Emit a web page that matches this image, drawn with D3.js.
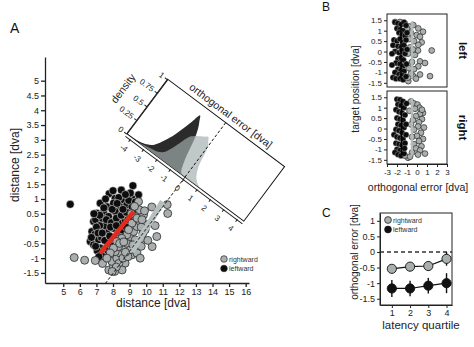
<!DOCTYPE html>
<html>
<head>
<meta charset="utf-8">
<script src="https://cdn.jsdelivr.net/npm/d3@7"></script>
<style>
body { margin: 0; background: #fff; }
svg { font-family: "Liberation Sans", Arial, Helvetica, sans-serif; }
.ax path, .ax line { stroke: #222; }
.ax text { fill: #222; }
</style>
</head>
<body>
<div id="chart"></div>
<script>
var width = 474;
var height = 347;

// ---------- data ----------
// panel A: endpoint positions [dva]
var leftwardA = [[5.42,0.82],[7.77,1.18],[9.2,1.45],[9.54,1.14],[8.13,1.02],[8.63,0.91],[9.14,1.02],[7.23,0.86],
  [7.63,0.74],[8.03,0.86],[8.43,0.74],[8.84,0.8],[9.14,0.74],[7.03,0.52],[7.43,0.55],[6.83,0.24],[6.95,0.3],
  [6.73,-0.1],[6.63,-0.44],[6.83,-0.55],[6.9,-0.2],[7.13,-0.38],[7.23,-0.66],[7.43,0.18],[7.73,0.41],[8.13,0.58],
  [7.63,-0.1],[8.03,0.01],[8.43,0.18],[8.73,0.29],[9.03,0.46],[8.33,-0.16],[8.63,-0.1],[8.13,-0.38],[7.83,-0.55],
  [7.53,-0.72],[7.05,-0.75],[7.3,-0.3],[7.5,0.1],[7.2,0.1],[7.0,0.05],[7.35,0.35],[7.6,0.3],[7.9,0.2],[8.2,0.35],
  [8.5,0.45],[8.8,0.55],[9.3,0.6],[8.35,1.05],[7.95,0.65],[8.25,0.85],[8.6,0.65],[8.95,0.95],[9.35,0.9],[7.5,-0.4],
  [7.8,-0.25],[8.0,-0.6],[7.7,-0.85],[7.4,-0.95],[7.15,-0.95],[6.95,-0.6],[6.7,-0.3],[7.1,-0.15],[7.35,-0.15],
  [7.85,0.05],[8.2,0.1],[8.5,-0.3],[8.8,0.05],[8.9,0.3],[9.2,0.3],[7.45,0.7],[7.2,0.45],[6.85,0.5],[7.55,1.0],
  [8.5,1.3],[8.0,1.28],[9.05,1.2],[8.75,1.15]];
var rightwardA = [[5.66,-0.98],[6.29,-1.07],[6.93,-1.08],[7.37,-1.18],[7.75,-1.4],[8.03,-1.28],[7.93,-1.11],
  [8.23,-1.0],[8.53,-1.23],[8.73,-1.17],[8.43,-0.83],[8.13,-0.78],[8.63,-0.66],[8.84,-0.5],[8.33,-0.61],[9.14,-0.89],
  [9.44,-0.83],[9.64,-1.0],[9.04,-0.27],[9.24,-0.1],[9.44,0.07],[9.64,0.24],[9.84,0.46],[9.54,0.91],[9.6,0.63],
  [9.9,0.6],[9.34,-0.38],[9.74,-0.33],[9.94,-0.04],[10.04,0.13],[9.8,-0.16],[10.34,0.73],[11.27,0.81],[11.3,0.51],
  [10.54,0.1],[10.64,-0.27],[10.36,-0.61],[9.04,-0.72],[8.84,-0.21],[9.14,0.18],[9.34,0.41],[8.94,-0.04],[8.53,-0.33],
  [8.23,-0.44],[8.03,-0.66],[7.83,-0.83],[7.63,-1.0],[8.35,-1.18],[8.1,-1.45],[8.6,-1.0],[8.9,-0.95],[9.2,-0.55],
  [9.5,-0.55],[9.7,-0.6],[9.1,0.5],[9.45,0.35],[9.3,0.75],[9.7,0.05],[10.1,-0.4],[8.75,-0.8],[8.55,-1.4],[8.2,-1.3],
  [7.95,-1.45],[9.75,0.3],[8.4,-0.5],[8.65,-0.45]];
var leftwardFit = [[7.23,-0.83],[9.24,0.57]];
var rightwardFit = [[9.13,-0.78],[11.0,0.91]];
var distXTicks = [5,6,7,8,9,10,11,12,13,14,15,16];
var distYTicks = [-1.5,-1,-0.5,0,0.5,1,1.5,2,2.5,3,3.5,4,4.5,5];

// inset: density of orthogonal error
var errTicks = [-4,-3,-2,-1,0,1,2,3,4];
var densTicks = [0,0.25,0.5,0.75,1];
var leftDensErr = [-4.2,-3.8,-3.4,-3.0,-2.6,-2.3,-2.0,-1.8,-1.65,-1.5,-1.3,-1.1,-0.9,-0.7,-0.55,-0.4,-0.2];
var leftDens    = [0,0.005,0.02,0.05,0.12,0.25,0.42,0.58,0.72,0.86,0.78,0.68,0.52,0.28,0.14,0.04,0];
var rightDensErr = [-3.4,-3.0,-2.6,-2.2,-1.8,-1.55,-1.3,-1.0,-0.7,-0.45,-0.33,-0.15,0.07,0.23,0.43,0.7,1.07,1.3];
var rightDens    = [0,0.02,0.04,0.06,0.15,0.3,0.48,0.57,0.62,0.66,0.68,0.62,0.51,0.29,0.15,0.06,0.01,0];

// panel B: [orthogonal error, target position]
var leftBlackB = [[-2.2,1.4],[-1.9,1.35],[-1.6,1.3],[-1.3,1.4],[-1.1,1.25],[-2.0,1.1],[-1.7,1.05],[-1.4,1.0],
  [-1.8,0.9],[-1.5,0.8],[-1.2,0.75],[-2.3,0.55],[-2.0,0.5],[-1.7,0.6],[-1.4,0.45],[-1.1,0.55],[-2.4,0.3],[-1.9,0.25],
  [-1.6,0.2],[-1.3,0.3],[-2.2,0.0],[-1.8,-0.05],[-1.5,0.05],[-1.2,-0.1],[-2.5,-0.1],[-1.9,-0.35],[-1.6,-0.3],
  [-1.35,-0.4],[-2.1,-0.55],[-2.5,-0.65],[-1.7,-0.6],[-1.4,-0.7],[-1.9,-0.85],[-1.6,-0.9],[-1.3,-0.95],[-2.2,-1.0],
  [-1.8,-1.1],[-1.5,-1.15],[-2.4,-1.25],[-2.1,-1.3],[-1.7,-1.3],[-1.4,-1.35],[-1.1,-1.2],[-1.0,0.1],[-1.0,0.9],
  [-1.05,-0.6]];
var leftGrayB = [[-2.2,1.42],[-1.7,1.42],[-1.2,1.34],[-0.37,1.27],[0.13,1.11],[-0.8,1.2],[-0.03,0.79],[0.3,0.71],
  [-0.6,0.9],[0.47,0.44],[0.13,0.32],[-0.3,0.5],[1.47,0.05],[-0.2,-0.16],[0.1,0.05],[-0.7,0.2],[0.3,-0.47],
  [0.8,-0.55],[-0.5,-0.5],[0.13,-0.71],[-0.3,-0.85],[0.3,-1.1],[1.3,-1.18],[-0.37,-1.18],[-0.87,-1.42],[-0.1,-1.3],
  [-0.9,-1.25],[-0.8,0.6],[-0.9,-0.1],[-0.8,-0.8],[0.6,0.95],[-0.4,0.1],[-1.0,1.1],[-0.6,-1.05]];
var rightBlackB = [[-2.0,1.4],[-1.7,1.38],[-1.4,1.3],[-1.9,1.15],[-1.6,1.1],[-1.3,1.0],[-2.1,0.9],[-1.8,0.8],
  [-1.5,0.75],[-1.2,0.65],[-2.0,0.5],[-1.7,0.45],[-1.4,0.4],[-1.9,0.2],[-1.6,0.15],[-1.3,0.05],[-2.1,-0.05],
  [-1.8,-0.1],[-1.5,-0.2],[-2.3,-0.3],[-2.0,-0.4],[-1.7,-0.45],[-1.4,-0.5],[-2.1,-0.7],[-1.8,-0.75],[-1.5,-0.8],
  [-1.2,-0.7],[-2.0,-1.0],[-1.7,-1.05],[-1.4,-1.1],[-2.2,-1.15],[-1.9,-1.25],[-1.6,-1.3],[-1.3,-1.2],[-1.1,0.2],
  [-1.1,-0.3],[-1.05,1.2],[-1.25,-0.95]];
var rightGrayB = [[-0.6,1.3],[-0.3,1.2],[0.05,1.15],[0.25,1.0],[-0.2,0.95],[0.6,0.75],[0.3,0.7],[-0.1,0.6],
  [0.5,0.45],[-0.4,0.4],[0.2,0.3],[-0.6,0.2],[0.1,0.1],[0.7,0.05],[-0.3,-0.05],[0.4,-0.2],[0.0,-0.35],[-0.5,-0.4],
  [0.6,-0.5],[0.2,-0.6],[-0.3,-0.75],[0.45,-0.85],[-0.1,-0.95],[0.3,-1.05],[-0.5,-1.15],[0.8,-1.2],[0.1,-1.25],
  [-0.9,-1.4],[-1.2,-1.3],[-0.7,-1.35],[-0.75,0.85],[0.5,0.9]];
var meanLeftB = {black: -1.6, gray: -0.5};
var meanRightB = {black: -1.55, gray: -0.5};
var errTicksB = [-3,-2,-1,0,1,2,3];
var posTicksB = [-1.5,-1,-0.5,0,0.5,1,1.5];

// panel C
var quartiles = [1,2,3,4];
var rightwardMean = [-0.54,-0.47,-0.45,-0.22];
var rightwardErr  = [0.09,0.15,0.15,0.22];
var leftwardMean  = [-1.17,-1.17,-1.08,-1.0];
var leftwardErr   = [0.27,0.25,0.25,0.32];
var errTicksC = [-1.5,-1,-0.5,0,0.5,1];

var grayFill = "#a9aeae";
var darkStroke = "#2a2a2a";

var svg = d3.select("#chart").append("svg")
  .attr("width", width).attr("height", height);
svg.append("rect").attr("width", width).attr("height", height).attr("fill", "#fff");

function fmt(d) { return String(d); }
function styleAxis(g, fs, sw) {
  g.attr("class", "ax");
  g.selectAll("text").style("font-size", fs + "px");
  g.select(".domain").attr("stroke-width", sw);
  g.selectAll(".tick line").attr("stroke-width", sw);
}

// ---------- panel A ----------
var ax = d3.scaleLinear().domain([3.9, 16.2]).range([45, 249]);
var ay = d3.scaleLinear().domain([-1.84, 5.8]).range([283, 57]);

svg.append("g").attr("transform", "translate(0," + ay(-1.84) + ")")
  .call(d3.axisBottom(ax).tickValues(distXTicks).tickSize(4).tickSizeOuter(0).tickPadding(2).tickFormat(fmt))
  .call(styleAxis, 9, 1.3);
svg.append("g").attr("transform", "translate(" + ax(3.9) + ",0)")
  .call(d3.axisLeft(ay).tickValues(distYTicks).tickSize(4).tickSizeOuter(0).tickPadding(2).tickFormat(fmt))
  .call(styleAxis, 9, 1.3);

svg.append("text").attr("x", 153).attr("y", 307).attr("text-anchor", "middle")
  .style("font-size", "12px").attr("fill", "#222").text("distance [dva]");
svg.append("text").attr("transform", "translate(19,165) rotate(-90)").attr("text-anchor", "middle")
  .style("font-size", "12px").attr("fill", "#222").text("distance [dva]");

svg.append("g").selectAll("circle").data(leftwardA).enter().append("circle")
  .attr("cx", d => ax(d[0])).attr("cy", d => ay(d[1])).attr("r", 4)
  .attr("fill", "#0d0d0d").attr("stroke", "#fff").attr("stroke-width", 0.5);
svg.append("g").selectAll("circle").data(rightwardA).enter().append("circle")
  .attr("cx", d => ax(d[0])).attr("cy", d => ay(d[1])).attr("r", 4)
  .attr("fill", grayFill).attr("stroke", darkStroke).attr("stroke-width", 0.8);

var fitLine = d3.line().x(d => ax(d[0])).y(d => ay(d[1]));
svg.append("path").attr("d", fitLine(rightwardFit)).attr("stroke", "#b7c0bf")
  .attr("stroke-width", 6).attr("fill", "none");
svg.append("path").attr("d", fitLine(leftwardFit)).attr("stroke", "#e52a1e")
  .attr("stroke-width", 4.5).attr("fill", "none");

// inset, rotated so that its error axis is orthogonal to the dashed line
var insetAngle = 36.8;
var insetOrigin = [12.34, 1.74];
var ox = ax(insetOrigin[0]), oy = ay(insetOrigin[1]);
var ex = d3.scaleLinear().domain([-4.35, 4.4]).range([-4.35 * 16.7, 4.4 * 16.7]);
var ey = d3.scaleLinear().domain([0, 1]).range([0, -68]);
var gI = svg.append("g").attr("transform", "translate(" + ox + "," + oy + ") rotate(" + insetAngle + ")");

var belowLen = (ay(-1.84) - oy) / Math.cos(insetAngle * Math.PI / 180);
gI.append("line").attr("x1", ex(0)).attr("x2", ex(0)).attr("y1", 0).attr("y2", belowLen)
  .attr("stroke", "#111").attr("stroke-width", 0.9).attr("stroke-dasharray", "3,2");

gI.append("rect").attr("x", ex(-4.35)).attr("y", ey(1))
  .attr("width", ex(4.4) - ex(-4.35)).attr("height", ey(0) - ey(1))
  .attr("fill", "#fff").attr("stroke", "#111").attr("stroke-width", 1);

var area = d3.area().x(d => ex(d[0])).y0(ey(0)).y1(d => ey(d[1])).curve(d3.curveMonotoneX);
gI.append("path").attr("d", area(d3.zip(leftDensErr, leftDens))).attr("fill", "#2b2b2b");
gI.append("path").attr("d", area(d3.zip(rightDensErr, rightDens))).attr("fill", "#a4b0ae").attr("fill-opacity", 0.68);

gI.append("line").attr("x1", ex(0)).attr("x2", ex(0)).attr("y1", ey(0)).attr("y2", ey(1))
  .attr("stroke", "#111").attr("stroke-width", 0.9).attr("stroke-dasharray", "3,2");

gI.append("g").attr("transform", "translate(0,2.5)")
  .call(d3.axisBottom(ex).tickValues(errTicks).tickSize(3).tickSizeOuter(0).tickPadding(5).tickFormat(fmt))
  .call(styleAxis, 8, 1);
gI.append("g").attr("transform", "translate(" + ex(-4.35) + ",0)")
  .call(d3.axisLeft(ey).tickValues(densTicks).tickSize(3).tickSizeOuter(0).tickPadding(2).tickFormat(fmt))
  .call(styleAxis, 8, 1);
gI.append("text").attr("transform", "translate(-103," + ey(0.5) + ") rotate(-90)")
  .attr("text-anchor", "middle").attr("dominant-baseline", "central")
  .style("font-size", "10.5px").attr("fill", "#222").text("density");
gI.append("text").attr("x", 0).attr("y", ey(1) - 9)
  .attr("text-anchor", "middle").attr("dominant-baseline", "central")
  .style("font-size", "10.5px").attr("fill", "#222").text("orthogonal error [dva]");

// legend A
var legA = svg.append("g").attr("transform", "translate(224,259)");
[["rightward", grayFill], ["leftward", "#0d0d0d"]].forEach(function(e, i) {
  legA.append("circle").attr("cx", 0).attr("cy", i * 9.5).attr("r", 3.3)
    .attr("fill", e[1]).attr("stroke", darkStroke).attr("stroke-width", 0.7);
  legA.append("text").attr("x", 5).attr("y", i * 9.5).attr("dominant-baseline", "central")
    .style("font-size", "7px").attr("fill", "#333").text(e[0]);
});

svg.append("text").attr("x", 10).attr("y", 33).style("font-size", "14px").attr("fill", "#111").text("A");

// ---------- panel B ----------
var bx = d3.scaleLinear().domain([-3, 3]).range([387, 447]);
var panelsB = [
  {label: "left", top: 14, bottom: 87, black: leftBlackB, gray: leftGrayB, mean: meanLeftB},
  {label: "right", top: 91, bottom: 164, black: rightBlackB, gray: rightGrayB, mean: meanRightB}
];
panelsB.forEach(function(p) {
  var by = d3.scaleLinear().domain([-1.7, 1.8]).range([p.bottom, p.top]);
  var g = svg.append("g");
  g.append("rect").attr("x", bx(-3)).attr("y", p.top).attr("width", bx(3) - bx(-3))
    .attr("height", p.bottom - p.top).attr("fill", "#fff").attr("stroke", "#222").attr("stroke-width", 1);
  g.append("g").selectAll("circle").data(p.gray).enter().append("circle")
    .attr("cx", d => bx(d[0])).attr("cy", d => by(d[1])).attr("r", 2.9)
    .attr("fill", grayFill).attr("stroke", darkStroke).attr("stroke-width", 0.7);
  g.append("g").selectAll("circle").data(p.black).enter().append("circle")
    .attr("cx", d => bx(d[0])).attr("cy", d => by(d[1])).attr("r", 3)
    .attr("fill", "#0d0d0d").attr("stroke", "#fff").attr("stroke-width", 0.3);
  g.append("line").attr("x1", bx(p.mean.black)).attr("x2", bx(p.mean.black))
    .attr("y1", by(-1.3)).attr("y2", by(1.4)).attr("stroke", "#000").attr("stroke-width", 1.5);
  g.append("line").attr("x1", bx(p.mean.gray)).attr("x2", bx(p.mean.gray))
    .attr("y1", by(-1.3)).attr("y2", by(1.45)).attr("stroke", "#b3bbba").attr("stroke-width", 2.5);
  g.append("g").attr("transform", "translate(" + bx(-3) + ",0)")
    .call(d3.axisLeft(by).tickValues(posTicksB).tickSize(3).tickSizeOuter(0).tickPadding(2).tickFormat(fmt))
    .call(styleAxis, 8, 1)
    .select(".domain").remove();
  svg.append("text").attr("transform", "translate(463," + ((p.top + p.bottom) / 2) + ") rotate(90)")
    .attr("text-anchor", "middle").attr("dominant-baseline", "central")
    .style("font-size", "11.5px").style("font-weight", "bold").attr("fill", "#111").text(p.label);
});
svg.append("g").attr("transform", "translate(0,164)")
  .call(d3.axisBottom(bx).tickValues(errTicksB).tickSize(3).tickSizeOuter(0).tickPadding(2).tickFormat(fmt))
  .call(styleAxis, 8, 1);
svg.append("text").attr("x", 418).attr("y", 191).attr("text-anchor", "middle")
  .style("font-size", "10.5px").attr("fill", "#222").text("orthogonal error [dva]");
svg.append("text").attr("transform", "translate(355,89) rotate(-90)").attr("text-anchor", "middle")
  .attr("dominant-baseline", "central")
  .style("font-size", "10px").attr("fill", "#222").text("target position [dva]");
svg.append("text").attr("x", 322).attr("y", 11).style("font-size", "12px").attr("fill", "#111").text("B");

// ---------- panel C ----------
var cx = d3.scaleLinear().domain([0.35, 4.3]).range([380, 452]);
var cy = d3.scaleLinear().domain([-1.7, 1.25]).range([305, 213]);
svg.append("rect").attr("x", cx(0.35)).attr("y", cy(1.25)).attr("width", cx(4.3) - cx(0.35))
  .attr("height", cy(-1.7) - cy(1.25)).attr("fill", "#fff").attr("stroke", "#222").attr("stroke-width", 1);
svg.append("line").attr("x1", cx(0.35)).attr("x2", cx(4.3)).attr("y1", cy(0)).attr("y2", cy(0))
  .attr("stroke", "#333").attr("stroke-width", 1.3).attr("stroke-dasharray", "4,3");

svg.append("g").attr("transform", "translate(" + cx(0.35) + ",0)")
  .call(d3.axisLeft(cy).tickValues(errTicksC).tickSize(3).tickSizeOuter(0).tickPadding(2).tickFormat(fmt))
  .call(styleAxis, 9, 1);
svg.append("g").attr("transform", "translate(0," + cy(-1.7) + ")")
  .call(d3.axisBottom(cx).tickValues(quartiles).tickSize(3).tickSizeOuter(0).tickPadding(2).tickFormat(fmt))
  .call(styleAxis, 9, 1);

var seriesC = [
  {mean: rightwardMean, err: rightwardErr, fill: grayFill},
  {mean: leftwardMean, err: leftwardErr, fill: "#111"}
];
var lineC = d3.line().x(d => cx(d.q)).y(d => cy(d.m));
seriesC.forEach(function(s) {
  var pts = quartiles.map(function(q, i) { return {q: q, m: s.mean[i], e: s.err[i]}; });
  var g = svg.append("g");
  g.selectAll("line.eb").data(pts).enter().append("line")
    .attr("x1", d => cx(d.q)).attr("x2", d => cx(d.q))
    .attr("y1", d => cy(d.m - d.e)).attr("y2", d => cy(d.m + d.e))
    .attr("stroke", "#111").attr("stroke-width", 1.4);
  g.append("path").attr("d", lineC(pts)).attr("fill", "none").attr("stroke", "#111").attr("stroke-width", 1.2);
  g.selectAll("circle").data(pts).enter().append("circle")
    .attr("cx", d => cx(d.q)).attr("cy", d => cy(d.m)).attr("r", 4.6)
    .attr("fill", s.fill).attr("stroke", "#111").attr("stroke-width", 0.9);
});

var legC = svg.append("g").attr("transform", "translate(388,220)");
[["rightward", grayFill], ["leftward", "#111"]].forEach(function(e, i) {
  legC.append("circle").attr("cx", 0).attr("cy", i * 9.5).attr("r", 3.4)
    .attr("fill", e[1]).attr("stroke", "#111").attr("stroke-width", 0.7);
  legC.append("text").attr("x", 5).attr("y", i * 9.5).attr("dominant-baseline", "central")
    .style("font-size", "7px").attr("fill", "#333").text(e[0]);
});

svg.append("text").attr("x", 421).attr("y", 329).attr("text-anchor", "middle")
  .style("font-size", "11.5px").attr("fill", "#222").text("latency quartile");
svg.append("text").attr("transform", "translate(354,252) rotate(-90)").attr("text-anchor", "middle")
  .attr("dominant-baseline", "central")
  .style("font-size", "10px").attr("fill", "#222").text("orthogonal error [dva]");
svg.append("text").attr("x", 322).attr("y", 217).style("font-size", "12px").attr("fill", "#111").text("C");
</script>
</body>
</html>
